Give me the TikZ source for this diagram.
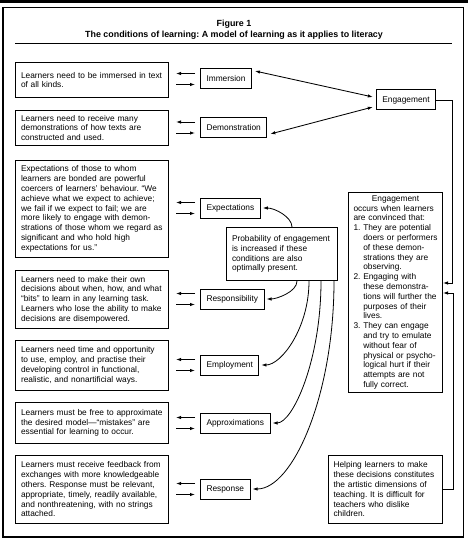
\documentclass[tikz,border=0pt]{standalone}
\usepackage{fontspec}
\setmainfont{Liberation Sans}
\usetikzlibrary{arrows.meta,calc}
\frenchspacing
\newcommand\bodyfnt{\fontsize{8.35}{9.8}\selectfont}
\begin{document}
\begin{tikzpicture}[x=1pt,y=-1pt,
  tbox/.style={draw, line width=1pt, anchor=north west, text width=142pt,
    inner xsep=5.5pt, inner ysep=3pt, align=left, font=\bodyfnt},
  lab/.style={draw, line width=1pt, anchor=west, minimum height=20pt,
    inner xsep=6pt, font=\bodyfnt},
  arr/.style={-{Latex[length=5pt,width=3.4pt]}, line width=0.85pt},
  darr/.style={{Latex[length=5pt,width=3.4pt]}-{Latex[length=5pt,width=3.4pt]}, line width=0.85pt},
  curv/.style={arr, line width=0.8pt, shorten >=2pt}
]
\useasboundingbox (0,0) rectangle (468,540);
\draw[line width=2.6pt] (0,1.3) -- (468,1.3);
\draw[line width=1.1pt] (3,7.5) rectangle (463.5,537);

\node[font=\bfseries\fontsize{8.9}{11}\selectfont, align=center] (title) at (234,29.5)
  {Figure 1\\The conditions of learning: A model of learning as it applies to literacy};
\coordinate (rl) at (15,43);
\coordinate (rr) at (452,43);
\draw[line width=0.7pt] (rl) -- (rr);

% left text boxes
\node[tbox, minimum height=35pt] (t1) at (15,62) {Learners need to be immersed in text\\of all kinds.};
\node[tbox, minimum height=35pt] (t2) at (15,110) {Learners need to receive many\\demonstrations of how texts are\\constructed and used.};
\node[tbox, minimum height=97pt] (t3) at (15,160) {Expectations of those to whom\\learners are bonded are powerful\\coercers of learners’ behaviour. “We\\achieve what we expect to achieve;\\we fail if we expect to fail; we are\\more likely to engage with demon-\\strations of those whom we regard as\\significant and who hold high\\expectations for us.”};
\node[tbox, minimum height=58pt] (t4) at (15,270) {Learners need to make their own\\decisions about when, how, and what\\“bits” to learn in any learning task.\\Learners who lose the ability to make\\decisions are disempowered.};
\node[tbox, minimum height=50pt] (t5) at (15,340) {Learners need time and opportunity\\to use, employ, and practise their\\developing control in functional,\\realistic, and nonartificial ways.};
\node[tbox, minimum height=41pt] (t6) at (15,402) {Learners must be free to approximate\\the desired model—“mistakes” are\\essential for learning to occur.};
\node[tbox, minimum height=68pt] (t7) at (15,455) {Learners must receive feedback from\\exchanges with more knowledgeable\\others. Response must be relevant,\\appropriate, timely, readily available,\\and nonthreatening, with no strings\\attached.};

% condition labels
\node[lab] (im) at (200,79) {Immersion};
\node[lab] (dm) at (200,127.5) {Demonstration};
\node[lab] (ex) at (200,208) {Expectations};
\node[lab] (rs) at (200,299) {Responsibility};
\node[lab] (em) at (200,365) {Employment};
\node[lab] (ap) at (200,423) {Approximations};
\node[lab] (re) at (200,489) {Response};

% short arrow pairs
\foreach \t/\l in {t1/im,t2/dm,t3/ex,t4/rs,t5/em,t6/ap,t7/re}{
  \draw[arr, shorten <=5pt, shorten >=7pt] ($(\l.west)+(0,5.5pt)$) -- ($(\t.east |- \l.west)+(0,5.5pt)$);
  \draw[arr, shorten <=7pt, shorten >=5pt] ($(\t.east |- \l.west)+(0,-5.5pt)$) -- ($(\l.west)+(0,-5.5pt)$);
}

% engagement
\node[lab, anchor=center] (eng) at (406,100) {Engagement};
\draw[darr] ([xshift=3pt,yshift=8pt]im.east) -- ([xshift=-3pt,yshift=3pt]eng.west);
\draw[darr] ([xshift=3pt,yshift=-6.5pt]dm.east) -- ([xshift=-3pt,yshift=-7pt]eng.west);

% probability box
\node[draw, line width=1pt, anchor=north west, text width=100pt, inner xsep=5.5pt,
  minimum height=53pt, align=left, font=\bodyfnt] (p) at (226,227)
  {Probability of engagement\\is increased if these\\conditions are also\\optimally present.};
\draw[curv] ([xshift=10pt]p.north) .. controls +(0,10pt) and +(14pt,0) .. (ex.east);
\draw[curv] ([xshift=15pt]p.south) .. controls +(0,-11pt) and +(12pt,0) .. (rs.east);
\draw[curv] ([xshift=27pt]p.south) .. controls +(0,-47pt) and +(22pt,0) .. (em.east);
\draw[curv] ([xshift=39pt]p.south) .. controls +(0,-80pt) and +(22pt,0) .. (ap.east);
\draw[curv] ([xshift=52pt]p.south) .. controls +(0,-115pt) and +(42pt,0) .. (re.east);

% engagement occurs box
\node[draw, line width=1pt, anchor=north west, text width=84pt, inner xsep=5pt,
  inner ysep=3pt, minimum height=196pt, align=left, font=\bodyfnt] (occ) at (348,192)
  {\makebox[84pt]{Engagement}\\occurs when learners\\are convinced that:\\
   1.~They are potential\\\hphantom{1.~}doers or performers\\\hphantom{1.~}of these demon-\\\hphantom{1.~}strations they are\\\hphantom{1.~}observing.\\
   2.~Engaging with\\\hphantom{2.~}these demonstra-\\\hphantom{2.~}tions will further the\\\hphantom{2.~}purposes of their\\\hphantom{2.~}lives.\\
   3.~They can engage\\\hphantom{3.~}and try to emulate\\\hphantom{3.~}without fear of\\\hphantom{3.~}physical or psycho-\\\hphantom{3.~}logical hurt if their\\\hphantom{3.~}attempts are not\\\hphantom{3.~}fully correct.};

% helping box
\node[draw, line width=1pt, anchor=north west, text width=104pt, inner xsep=5pt,
  minimum height=68pt, align=left, font=\bodyfnt] (help) at (328,455)
  {Helping learners to make\\these decisions constitutes\\the artistic dimensions of\\teaching. It is difficult for\\teachers who dislike\\children.};

\draw[arr, line width=0.8pt] (eng.east) -- ++(16pt,0) |- ([yshift=-91pt]occ.north east);
\draw[arr, line width=0.8pt] (help.east) -- ++(10.5pt,0) |- ([yshift=-101pt]occ.north east);
\end{tikzpicture}
\end{document}
